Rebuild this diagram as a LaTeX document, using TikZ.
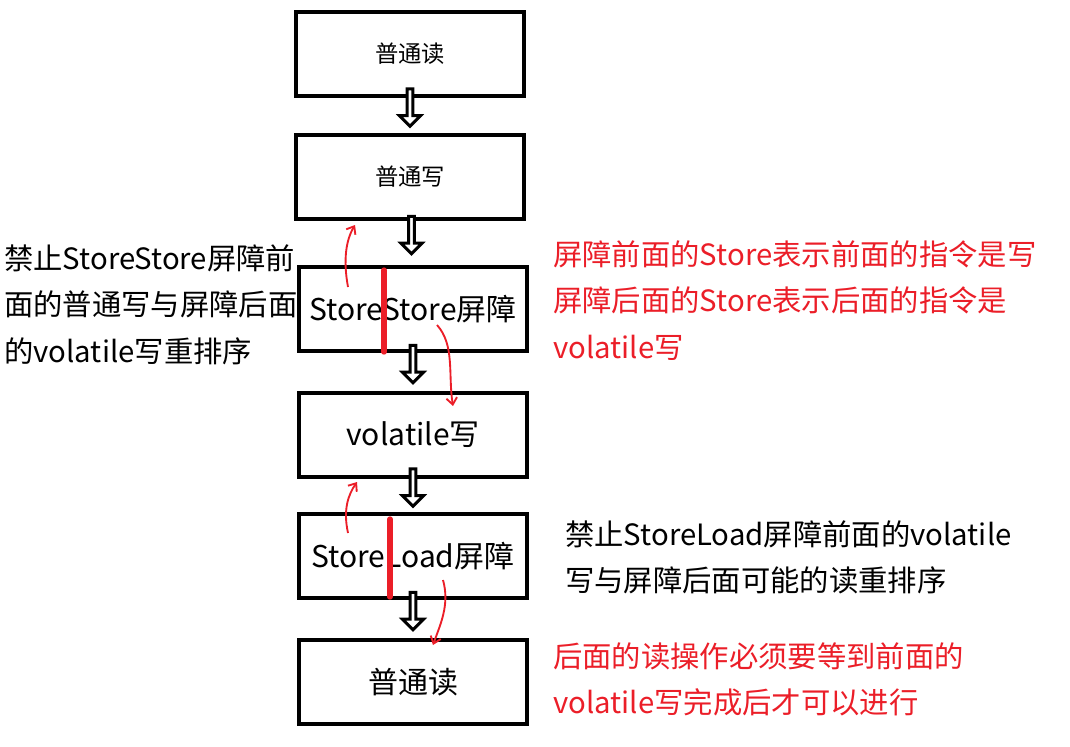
\documentclass[tikz,border=0pt]{standalone}
\usepackage{fontspec}
\setmainfont{Noto Sans CJK SC}
\usetikzlibrary{arrows.meta,positioning,calc,shapes.arrows}
\definecolor{barred}{RGB}{235,30,40}
\begin{document}
\begin{tikzpicture}[
    x=0.75pt, y=-0.75pt,
    box/.style={draw=black, line width=3pt, minimum width=171pt, minimum height=63pt, font=\fontsize{22.5}{24}\selectfont},
    flow/.style={single arrow, draw=black, line width=2.2pt, fill=white, rotate=-90,
      minimum height=28pt, minimum width=16pt, single arrow head extend=3pt, inner sep=0pt, xshift=-7pt},
    note/.style={align=left, anchor=north west, font=\fontsize{22}{35}\selectfont, inner sep=0pt},
    hook/.style={barred, line width=1.4pt, -{Straight Barb[length=5pt,width=8pt]}}
  ]
    \useasboundingbox (0,0) rectangle (1070,746);
    % boxes
    \node[box, font=\fontsize{17.5}{20}\selectfont] (r1) at (410,54) {普通读};
    \node[box, font=\fontsize{17.5}{20}\selectfont] (w1) at (410,177) {普通写};
    \node[box] (ss) at (413,309) {StoreStore屏障};
    \node[box] (vw) at (413,435) {volatile写};
    \node[box] (sl) at (413,556) {StoreLoad屏障};
    \node[box] (r2) at (413,682) {普通读};
    % hollow arrows between the boxes
    \node[flow] at ($(r1.south)!0.5!(w1.north)$) {};
    \node[flow] at ($(w1.south)!0.5!(ss.north)$) {};
    \node[flow] at ($(ss.south)!0.5!(vw.north)$) {};
    \node[flow] at ($(vw.south)!0.5!(sl.north)$) {};
    \node[flow] at ($(sl.south)!0.5!(r2.north)$) {};
    % barriers
    \draw[barred, line width=4pt, line cap=round] (384,270) -- (384,352);
    \draw[barred, line width=4pt, line cap=round] (390,519) -- (390,597);
    \draw[hook] (348,287) .. controls (343,260) and (346,240) .. (355,225);
    \draw[hook] (437,325) .. controls (455,345) and (448,375) .. (453,406);
    \draw[hook] (348,533) .. controls (343,510) and (348,495) .. (357,482);
    \draw[hook] (443,580) .. controls (450,605) and (440,625) .. (433,645);
    % notes
    \node[note] (n1) at (4,244) {禁止StoreStore屏障前\\面的普通写与屏障后面\\的volatile写重排序};
    \node[note, text=barred] (n2) at (553,240) {屏障前面的Store表示前面的指令是写\\屏障后面的Store表示后面的指令是\\volatile写};
    \node[note] (n3) at (565,520) {禁止StoreLoad屏障前面的volatile\\写与屏障后面可能的读重排序};
    \node[note, text=barred] (n4) at (553,642) {后面的读操作必须要等到前面的\\volatile写完成后才可以进行};
\end{tikzpicture}
\end{document}
